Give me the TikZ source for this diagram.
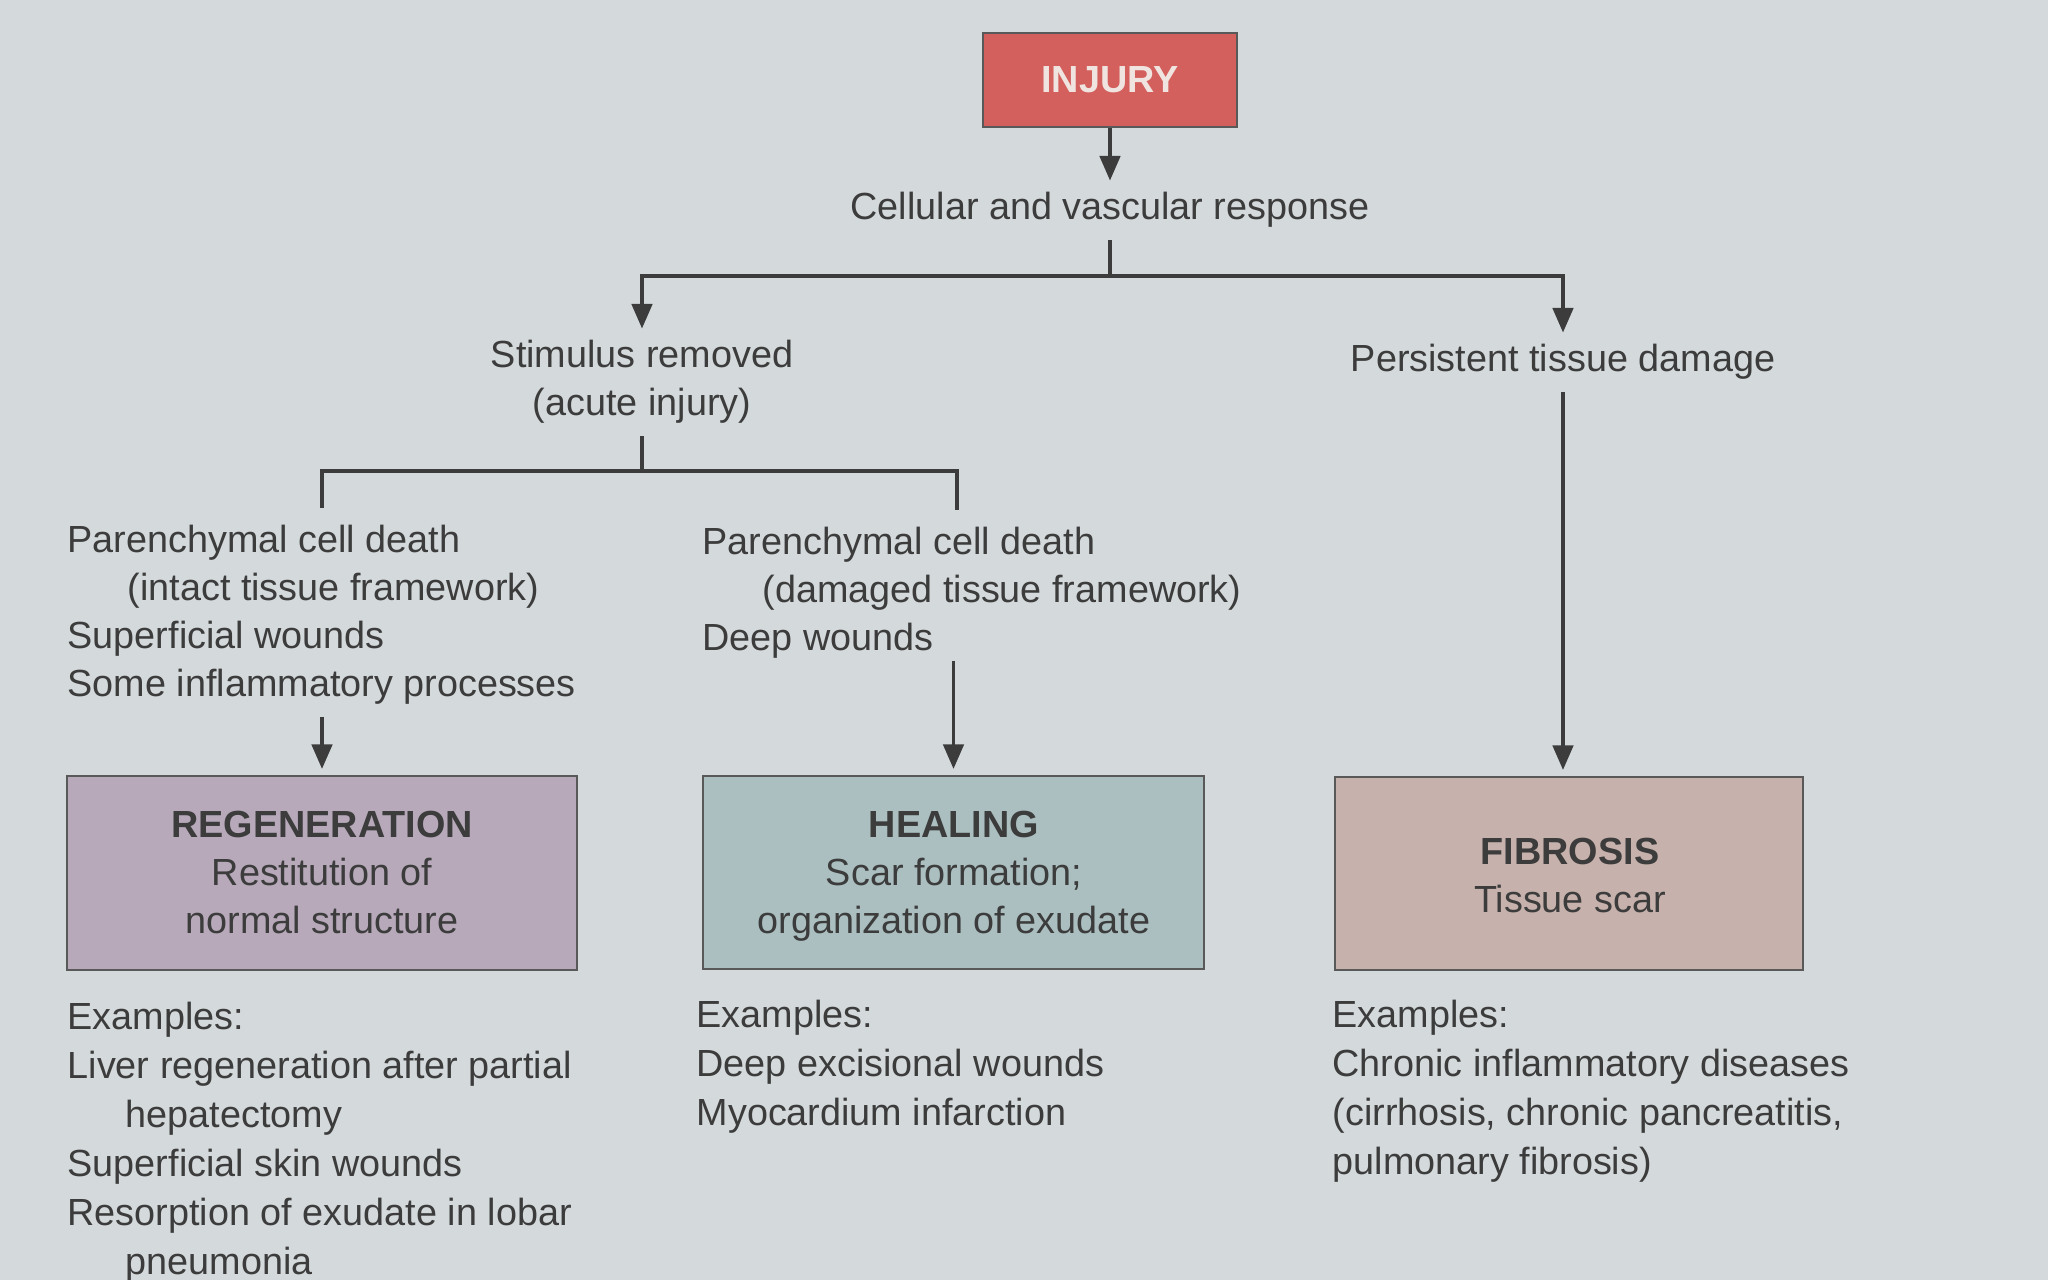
\documentclass[tikz,border=0pt]{standalone}
\usepackage{fontspec}
\setmainfont{Liberation Sans}
\usetikzlibrary{arrows.meta}
\definecolor{bg}{HTML}{D4D9DB}
\definecolor{ink}{HTML}{3C3C3C}
\definecolor{injred}{HTML}{D4605D}
\definecolor{injtext}{HTML}{F0E4E0}
\definecolor{regfill}{HTML}{B7A9BA}
\definecolor{healfill}{HTML}{ABBFC0}
\definecolor{fibfill}{HTML}{C6B1AC}
\newcommand{\ltabx}[1]{\begin{tabular}[t]{@{}l@{}}#1\end{tabular}}
\newcommand{\ctabx}[1]{\begin{tabular}[t]{@{}c@{}}#1\end{tabular}}
\tikzset{
  txt/.style={inner xsep=0pt, inner ysep=1.5pt, text=ink, font=\fontsize{10.75}{13.6}\selectfont},
  extxt/.style={txt, font=\fontsize{10.75}{13.9}\selectfont},
  box/.style={draw=ink!85, line width=0.6pt, inner sep=0pt},
  conn/.style={draw=ink, line width=1pt},
  arr/.style={conn, -{Triangle[width=5.8pt,length=7pt]}},
}
\begin{document}
\begin{tikzpicture}[x=1cm,y=1cm]
\fill[bg] (0,0) rectangle (20.48,-12.8);
\useasboundingbox (0,0) rectangle (20.48,-12.8);

% top
\node[box, fill=injred, minimum width=2.54cm, minimum height=0.94cm,
      font=\fontsize{10.75}{13.6}\selectfont\bfseries, text=injtext] (injury) at (11.10,-0.80) {INJURY};
\node[txt, anchor=base] (cvr) at (11.10,-2.20) {\ctabx{Cellular and vascular response}};
\draw[arr] (injury.south) -- (cvr.north);

\coordinate (j1) at (11.10,-2.76);
\draw[conn] (cvr.south) -- (j1);
\node[txt, anchor=base] (stim) at (6.42,-3.68) {\ctabx{Stimulus removed\\(acute injury)}};
\node[txt, anchor=base] (pers) at (15.63,-3.72) {\ctabx{Persistent tissue damage}};
\draw[arr] (j1) -| (stim.north);
\draw[arr] (j1) -| (pers.north);

\coordinate (j2) at (6.42,-4.71);
\draw[conn] (stim.south) -- (j2);
\coordinate (legL) at (3.22,-5.08);
\coordinate (legR) at (9.57,-5.10);
\draw[conn] (legL) |- (j2) -| (legR);

% middle texts
\node[txt, anchor=base west] (ltext) at (0.67,-5.53)
  {\ltabx{Parenchymal cell death\\\hspace*{0.6cm}(intact tissue framework)\\Superficial wounds\\Some inflammatory processes}};
\node[txt, anchor=base west] (mtext) at (7.02,-5.55)
  {\ltabx{Parenchymal cell death\\\hspace*{0.6cm}(damaged tissue framework)\\Deep wounds}};

% boxes
\node[box, fill=regfill, minimum width=5.10cm, minimum height=1.94cm] (regen) at (3.22,-8.73) {};
\node[box, fill=healfill, minimum width=5.01cm, minimum height=1.93cm] (heal) at (9.535,-8.725) {};
\node[box, fill=fibfill, minimum width=4.68cm, minimum height=1.93cm] (fib) at (15.69,-8.735) {};

\node[txt, anchor=base] (regenT) at (3.22,-8.38) {\ctabx{\textbf{REGENERATION}\\Restitution of\\normal structure}};
\node[txt, anchor=base] (healT) at (9.54,-8.38) {\ctabx{\textbf{HEALING}\\Scar formation;\\organization of exudate}};
\node[txt, anchor=base] (fibT) at (15.70,-8.65) {\ctabx{\textbf{FIBROSIS}\\Tissue scar}};

% arrows to boxes
\draw[arr, shorten >=1.7pt] (ltext.south -| regen.north) -- (regen.north);
\draw[arr, shorten >=1.7pt] ([yshift=0.1cm]mtext.south -| heal.north) -- (heal.north);
\draw[arr, shorten >=1.7pt] (pers.south) -- (pers.south |- fib.north);

% examples
\node[extxt, anchor=base west] (exL) at (0.67,-10.30)
  {\ltabx{Examples:\\Liver regeneration after partial\\\hspace*{0.58cm}hepatectomy\\Superficial skin wounds\\Resorption of exudate in lobar\\\hspace*{0.58cm}pneumonia}};
\node[extxt, anchor=base west] (exM) at (6.96,-10.28)
  {\ltabx{Examples:\\Deep excisional wounds\\Myocardium infarction}};
\node[extxt, anchor=base west] (exR) at (13.32,-10.28)
  {\ltabx{Examples:\\Chronic inflammatory diseases\\(cirrhosis, chronic pancreatitis,\\pulmonary fibrosis)}};
\end{tikzpicture}
\end{document}
